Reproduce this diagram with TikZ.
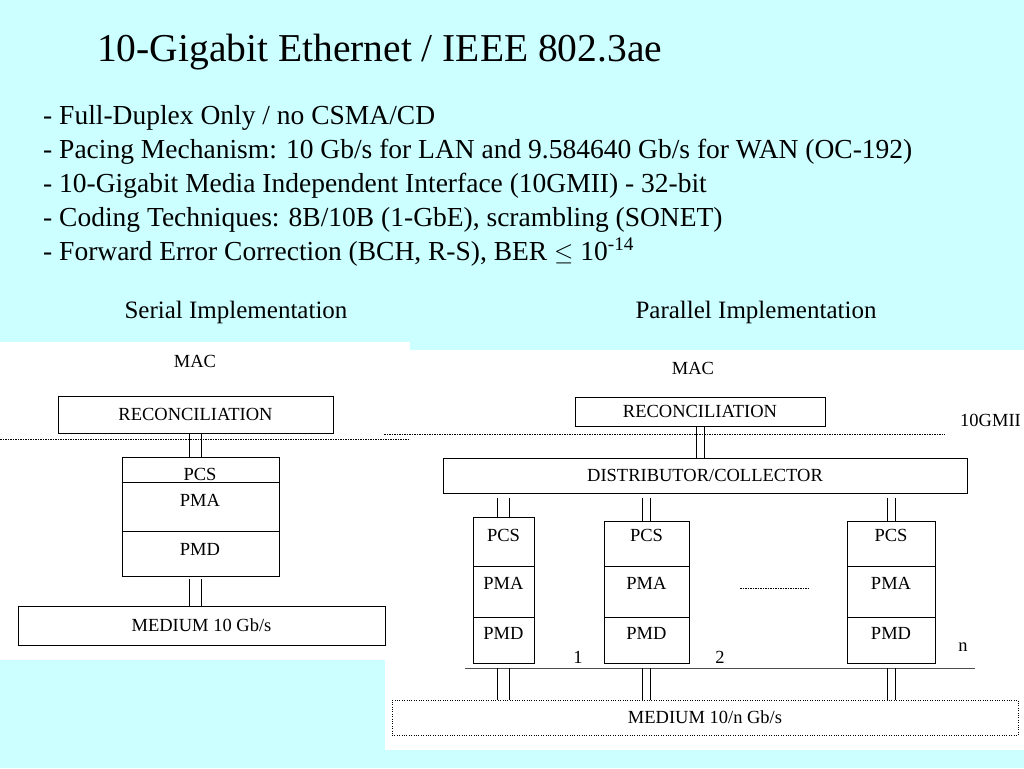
\documentclass[tikz,border=0pt]{standalone}
\usepackage{fontspec}
\setmainfont{Liberation Serif}
\begin{document}
\begin{tikzpicture}[x=1pt,y=-1pt,
  bx/.style={draw=black,line width=0.9pt},
  lab/.style={font=\rmfamily\fontsize{18.5}{20}\selectfont,inner sep=0pt},
  dl/.style={line width=0.8pt},
  dots/.style={line width=0.7pt,dash pattern=on 1.5pt off 1pt}]
\useasboundingbox (0,0) rectangle (1024,768);
\definecolor{bg}{HTML}{CCFFFF}
\fill[bg] (0,0) rectangle (1024,768);
% text
\node[anchor=base west,inner sep=0pt,font=\rmfamily\fontsize{39.5}{42}\selectfont] (title) at (97,61) {10-Gigabit Ethernet / IEEE 802.3ae};
\begin{scope}[every node/.style={anchor=base west,inner sep=0pt,font=\rmfamily\fontsize{27.5}{30}\selectfont}]
\node (b1) at (43,124) {- Full-Duplex Only / no CSMA/CD};
\node (b2) at (43,158) {- Pacing Mechanism: 10 Gb/s for LAN and 9.584640 Gb/s for WAN (OC-192)};
\node (b3) at (43,192) {- 10-Gigabit Media Independent Interface (10GMII) - 32-bit};
\node (b4) at (43,226) {- Coding Techniques: 8B/10B (1-GbE), scrambling (SONET)};
\node (b5) at (43,260) {- Forward Error Correction (BCH, R-S), BER $\leq$ 10\textsuperscript{-14}};
\end{scope}
\node[font=\rmfamily\fontsize{25}{28}\selectfont] (ser) at (236,312) {Serial Implementation};
\node[font=\rmfamily\fontsize{25}{28}\selectfont] (par) at (756,312) {Parallel Implementation};
% white panels
\fill[white] (0,342) rectangle (410,660);
\fill[white] (410,350) rectangle (1024,750);
\fill[white] (385,660) rectangle (1024,750);
% serial
\node[lab] (mac1) at (195,361) {MAC};
\node[bx,lab,minimum width=275pt,minimum height=37pt] (rec1) at (195.5,414.5) {RECONCILIATION};
\draw[dots] (0,439) -- (410,439);
\draw[bx] (122,457) rectangle (279,576);
\draw[bx] (122,482) -- (279,482) (122,531) -- (279,531);
\node[lab] (pcs1) at (200,474) {PCS};
\node[lab] (pma1) at (200,500) {PMA};
\node[lab] (pmd1) at (200,549) {PMD};
\coordinate (st1) at (195,457);
\coordinate (st1b) at (195,579);
\node[bx,lab,minimum width=367pt,minimum height=39pt] (med1) at (201.5,625.5) {MEDIUM 10 Gb/s};
\draw[dl] ([xshift=-6pt]st1 |- rec1.south) -- ([xshift=-6pt]st1) ([xshift=6pt]st1 |- rec1.south) -- ([xshift=6pt]st1);
\draw[dl] ([xshift=-6pt]st1b) -- ([xshift=-6pt]st1b |- med1.north) ([xshift=6pt]st1b) -- ([xshift=6pt]st1b |- med1.north);
% parallel
\node[lab] (mac2) at (693,368) {MAC};
\node[bx,lab,minimum width=250pt,minimum height=29pt] (rec2) at (700,411.5) {RECONCILIATION};
\node[lab,anchor=west] (gmii) at (960,420) {10GMII};
\draw[dots] (384,434) -- (945,434);
\node[bx,lab,minimum width=524pt,minimum height=35pt] (dist) at (705,475.5) {DISTRIBUTOR/COLLECTOR};
\draw[dl] ([xshift=-4pt]rec2.south) -- ([xshift=-4pt]rec2.south |- dist.north) ([xshift=4pt]rec2.south) -- ([xshift=4pt]rec2.south |- dist.north);
% stacks
\foreach \n/\xa/\xb/\ya in {A/473/534/517,B/604/689/521,C/847/935/521}{
  \draw[bx] (\xa,\ya) rectangle (\xb,663);
  \draw[bx] (\xa,566) -- (\xb,566) (\xa,617) -- (\xb,617);
  \node[lab] (pcs\n) at ({(\xa+\xb)/2},535) {PCS};
  \node[lab] (pma\n) at ({(\xa+\xb)/2},583) {PMA};
  \node[lab] (pmd\n) at ({(\xa+\xb)/2},633) {PMD};
  \coordinate (top\n) at ({(\xa+\xb)/2},\ya);
  \coordinate (up\n) at ({(\xa+\xb)/2},498);
  \coordinate (bot\n) at ({(\xa+\xb)/2},668);
}
\node[lab] (n1) at (578,657) {1};
\node[lab] (n2) at (720,657) {2};
\node[lab] (nn) at (963,647) {n};
\draw[dots] (740,588) -- (808,588);
\draw[line width=1pt,black!70] (465,668) -- (975,668);
\node[draw,dotted,lab,minimum width=626pt,minimum height=35pt] (med2) at (705,717.5) {MEDIUM 10/n Gb/s};
\foreach \n/\d in {A/6,B/4,C/4}{
  \draw[dl] ([xshift=-\d pt]up\n) -- ([xshift=-\d pt]top\n) ([xshift=\d pt]up\n) -- ([xshift=\d pt]top\n);
  \draw[dl] ([xshift=-\d pt]bot\n) -- ([xshift=-\d pt]med2.north-|bot\n) ([xshift=\d pt]bot\n) -- ([xshift=\d pt]med2.north-|bot\n);
}
\end{tikzpicture}
\end{document}
